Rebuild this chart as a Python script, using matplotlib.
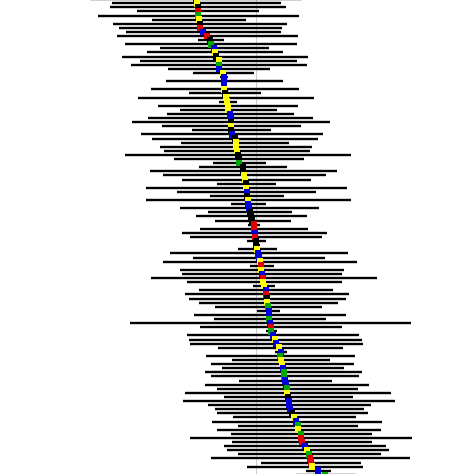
import numpy as np
import matplotlib
matplotlib.use("Agg")
import matplotlib.pyplot as plt

# point estimates, lower and upper limits, one row per study (top to bottom)
est = [-0.60, -0.59, -0.58, -0.58, -0.58, -0.57, -0.56, -0.56, -0.53, -0.49,
       -0.46, -0.45, -0.42, -0.41, -0.40, -0.37, -0.37, -0.37, -0.33, -0.32,
       -0.32, -0.32, -0.32, -0.31, -0.30, -0.29, -0.28, -0.28, -0.26, -0.25,
       -0.25, -0.25, -0.25, -0.24, -0.21, -0.20, -0.20, -0.19, -0.18, -0.17,
       -0.17, -0.13, -0.13, -0.12, -0.11, -0.10, -0.10, -0.09, -0.09, -0.08,
       -0.08, -0.07, -0.06, -0.05, -0.04, -0.02, -0.02, -0.01, -0.01, 0.00,
       0.00, 0.01, 0.02, 0.03, 0.04, 0.05, 0.05, 0.06, 0.07, 0.07,
       0.08, 0.10, 0.10, 0.11, 0.11, 0.12, 0.13, 0.13, 0.13, 0.14,
       0.15, 0.15, 0.17, 0.19, 0.20, 0.23, 0.25, 0.24, 0.25, 0.26,
       0.27, 0.28, 0.28, 0.29, 0.30, 0.31, 0.31, 0.32, 0.33, 0.33,
       0.34, 0.36, 0.38, 0.40, 0.42, 0.42, 0.45, 0.45, 0.46, 0.49,
       0.51, 0.53, 0.54, 0.55, 0.56, 0.62, 0.69]
lo = [-1.66, -1.44, -1.46, -1.19, -1.58, -1.04, -1.43, -1.37, -1.30, -1.39,
      -0.58, -1.31, -0.96, -1.09, -1.34, -1.16, -1.25, -0.88, -0.63, -0.36,
      -0.90, -0.35, -1.05, -0.67, -1.18, -0.37, -0.98, -0.76, -0.89, -1.08,
      -1.24, -0.94, -0.64, -1.15, -1.04, -0.75, -0.96, -0.92, -1.31, -0.82,
      -0.43, -0.57, -1.06, -0.93, -0.74, -0.39, -1.10, -0.79, -0.46, -1.10,
      -0.25, -0.76, -0.48, -0.60, -0.41, -0.08, -0.56, -0.74, -0.66, -0.09,
      -0.03, -0.18, -0.86, -0.63, -0.93, -0.06, -0.76, -0.74, -1.05, -0.69,
      -0.03, -0.57, -0.71, -0.67, -0.57, -0.41, 0.01, -0.62, -0.42, -1.26,
      -0.56, 0.10, -0.69, -0.67, -0.66, -0.38, 0.19, -0.50, -0.24, -0.45,
      -0.34, -0.51, -0.45, -0.17, -0.51, -0.39, -0.71, -0.32, -0.73, -0.48,
      -0.41, -0.39, -0.23, -0.44, -0.18, -0.39, -0.25, -0.66, -0.24, -0.32,
      -0.29, -0.18, -0.45, 0.05, -0.09, 0.50, 0.40]
hi = [0.46, 0.25, 0.30, 0.03, 0.43, -0.10, 0.31, 0.26, 0.25, 0.42,
      -0.32, 0.41, 0.13, 0.27, 0.52, 0.41, 0.51, 0.14, -0.02, -0.28,
      0.27, -0.29, 0.43, 0.05, 0.58, -0.19, 0.42, 0.21, 0.38, 0.57,
      0.74, 0.45, 0.15, 0.67, 0.62, 0.33, 0.56, 0.54, 0.95, 0.48,
      0.10, 0.31, 0.81, 0.70, 0.55, 0.20, 0.91, 0.60, 0.28, 0.95,
      0.10, 0.63, 0.36, 0.51, 0.35, 0.04, 0.52, 0.71, 0.66, 0.10,
      0.04, 0.21, 0.92, 0.69, 1.01, 0.18, 0.88, 0.86, 1.21, 0.86,
      0.19, 0.77, 0.93, 0.90, 0.82, 0.66, 0.24, 0.90, 0.70, 1.55,
      0.86, 0.21, 1.03, 1.06, 1.07, 0.87, 0.31, 0.99, 0.74, 0.98,
      0.88, 1.06, 1.03, 0.76, 1.13, 1.02, 1.35, 0.97, 1.39, 1.15,
      1.08, 1.12, 1.00, 1.26, 1.02, 1.25, 1.16, 1.56, 1.16, 1.30,
      1.33, 1.25, 1.54, 1.05, 1.07, 0.75, 1.00]
group = list("KYKRGYKRBRKGBYKYGBYBBBYKYYYYBBKYKBKYYYKKGKKYYKYBKYBBKKKRRBRKKYBBYRYBRYYBRKYGBBGBRGBYBYBGYYBGGBBGYKBBBKYBGYGRRBYGRRYBG")

colours = {"Y": "#ffff00", "K": "#000000", "R": "#e00000",
           "G": "#00a800", "B": "#0000e0"}

rows = np.arange(len(est))

fig = plt.figure(figsize=(4.74, 4.74), dpi=100)
ax = fig.add_axes([0, 0, 1, 1])

ax.axvline(0, color="#cccccc", lw=0.8, zorder=1)
ax.hlines(rows, lo, hi, color="black", lw=1.7, zorder=2)
ax.scatter(est, rows, c=[colours[g] for g in group], marker="s", s=22,
           linewidths=0, zorder=3)

ax.set_xlim(-2.56, 2.18)
ax.set_ylim(115.8, 0.2)
ax.axis("off")

plt.savefig("out.png", dpi=100)
